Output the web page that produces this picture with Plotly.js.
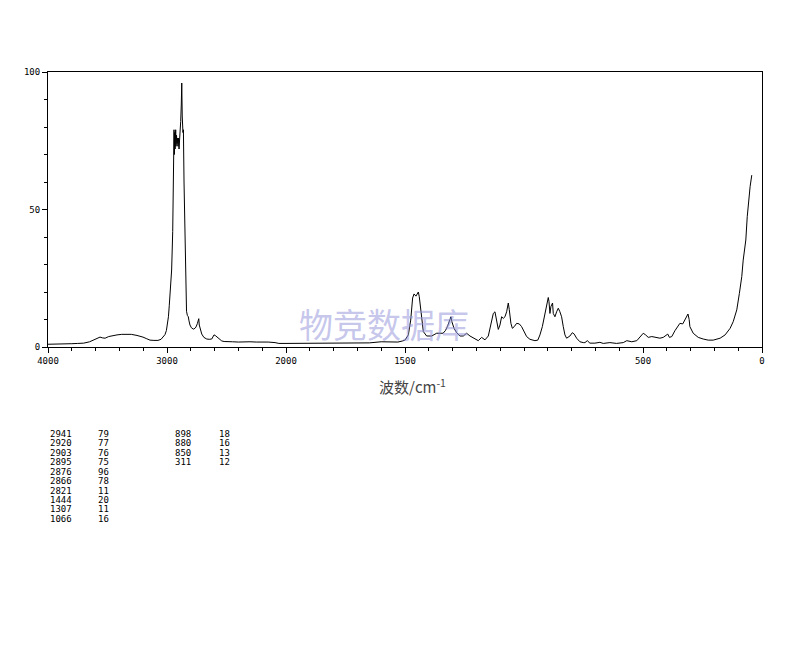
<!DOCTYPE html>
<html>
<head>
<meta charset="utf-8">
<script src="https://cdn.plot.ly/plotly-3.0.1.min.js"></script>
<style>html,body{margin:0;padding:0;background:#fff;}#chart{width:794px;height:652px;}</style>
</head>
<body>
<div id="chart"></div>
<script>
// Raman spectrum (wavenumber, cm-1 ; relative intensity)
const wavenumber = [4000,3950,3900,3850,3800,3750,3700,3650,3610,3580,3563,3540,3520,3490,3454,3420,3380,3336,3300,3252,3220,3202,3170,3143,3110,3076,3050,3034,3017,3005,2997,2988,2981,2970,2961,2952,2947,2943,2941,2938,2935,2932,2927,2924,2920,2916,2912,2908,2903,2899,2895,2890,2885,2880,2876,2872,2868,2866,2862,2857,2851,2846,2843,2836,2829,2821,2815,2807,2795,2779,2765,2756,2745,2737,2733,2729,2720,2708,2690,2666,2645,2624,2610,2605,2595,2577,2560,2540,2520,2498,2450,2400,2350,2303,2250,2200,2150,2092,2060,2000,1950,1900,1850,1800,1750,1700,1650,1600,1560,1530,1510,1500,1486,1476,1468,1462,1454,1449,1444,1440,1434,1429,1423,1409,1388,1367,1340,1330,1322,1311,1307,1303,1294,1283,1269,1255,1241,1227,1206,1192,1178,1164,1150,1139,1129,1122,1115,1108,1101,1094,1087,1080,1073,1066,1062,1055,1049,1041,1031,1020,1010,999,989,975,954,942,933,923,912,903,898,895,891,887,880,877,870,863,856,850,842,835,828,821,807,797,789,779,765,751,744,734,723,702,681,667,639,611,583,568,547,526,513,499,489,478,463,450,429,415,403,396,389,379,366,352,345,333,324,316,311,306,303,289,268,247,226,205,176,155,134,121,106,95,85,79,68,62,56,50,43];
const intensity = [1.0,1.0,1.1,1.0,1.2,1.3,1.4,1.9,2.6,3.2,3.6,3.3,3.2,3.8,4.2,4.4,4.6,4.7,4.6,4.2,3.9,3.6,3.0,2.5,2.4,2.4,2.8,3.5,4.5,6,8,11,15,21,28,42,60,71,79,70,78,72,79,73,77,74,76,73,76,72,75,74,82,88,96,84,80,78,79,60,45,30,21,13,11.5,11,9.5,8,7,6.5,6.8,7.3,8.5,9.8,10.3,8,6,4.7,3.5,2.9,2.8,2.9,4.0,4.4,4.2,3.6,2.8,2.2,2.0,1.9,1.9,1.8,1.9,1.9,1.8,1.9,1.8,1.6,1.3,1.3,1.3,1.4,1.3,1.3,1.4,1.3,1.5,1.9,1.9,1.8,2.2,2.5,4.4,9.8,17.8,19.3,18.5,19.5,20,18.3,13.5,8,5.6,4,4,5,5,6,7.4,10,11,9.2,6.8,5.2,4,4,5,4,2.8,2.3,3.5,2.6,4,8.6,12.2,12.8,9.8,6.4,8,11,10.4,11,12.8,16,13.7,8.6,6.8,7.4,8.6,8.4,7.4,5.2,3.8,2.8,2.3,2.5,4.4,7.4,11.6,15.3,18,16.5,12.2,14.7,16,12.2,11,12.8,14.1,13,11,7.4,4.4,3.2,4,5.2,4.7,3.2,1.9,1.6,1.6,2.3,1.4,1.4,1.7,1.3,1.6,1.3,1.6,2.3,1.9,2.3,3.5,5,4.4,3.5,3.8,3.5,3.2,3.5,4.4,4.7,3.5,3.8,5.9,8,8.6,8.4,10.1,11.5,12,10,7.4,5,3.5,2.9,2.5,2.5,3.2,4.4,6.8,9.2,13.5,19.5,25.6,31.6,38.9,47.4,53.5,58.3,62.5];

// Axis tick labels
const xTickLabels = [4000, 3000, 2000, 1500, 500, 0];
const yTickLabels = [0, 50, 100];

// Peak table
const peakWavenumber = [2941, 2920, 2903, 2895, 2876, 2866, 2821, 1444, 1307, 1066, 898, 880, 850, 311];
const peakIntensity  = [79, 77, 76, 75, 96, 78, 11, 20, 11, 16, 18, 16, 13, 12];

const xTitle = '波数/cm<sup>-1</sup>';
const watermark = '物竞数据库';

// The x axis is compressed by a factor 2 above 2000 cm-1
function toAxis(w) { return w <= 2000 ? w : 2000 + (w - 2000) / 2; }

const W = 794, H = 652, L = 48, R = 32, T = 72, B = 305;
const pw = W - L - R, ph = H - T - B;
function px2paperX(px) { return (px - L) / pw; }
function py2paperY(py) { return (H - B - py) / ph; }

const trace = {
  x: wavenumber.map(toAxis),
  y: intensity,
  type: 'scatter',
  mode: 'lines',
  line: {color: '#000', width: 1},
  hoverinfo: 'skip'
};

const tickFont = {family: 'DejaVu Sans Mono', size: 9, color: '#000'};
const annotations = [];

annotations.push({
  xref: 'paper', yref: 'paper', x: px2paperX(384), y: py2paperY(323),
  text: watermark, showarrow: false, xanchor: 'center', yanchor: 'middle',
  font: {family: 'Noto Sans CJK SC', size: 34, color: 'rgba(150,150,220,0.55)'}
});

annotations.push({
  xref: 'paper', yref: 'paper', x: px2paperX(412), y: py2paperY(386),
  text: xTitle, showarrow: false, xanchor: 'center', yanchor: 'middle',
  font: {family: 'Noto Sans CJK SC', size: 15, color: '#444'}
});

const rowTop = 434, rowStep = 9.43, rowsPerCol = 10;
const cols = [[47.5, 95.5], [172.5, 216.5]];
peakWavenumber.forEach(function (w, i) {
  const c = Math.floor(i / rowsPerCol), r = i % rowsPerCol;
  const y = py2paperY(rowTop + r * rowStep);
  annotations.push({xref: 'paper', yref: 'paper', x: px2paperX(cols[c][0]), y: y,
    text: String(w), showarrow: false, xanchor: 'left', yanchor: 'middle', font: tickFont});
  annotations.push({xref: 'paper', yref: 'paper', x: px2paperX(cols[c][1]), y: y,
    text: String(peakIntensity[i]), showarrow: false, xanchor: 'left', yanchor: 'middle', font: tickFont});
});

const layout = {
  width: W, height: H,
  margin: {l: L, r: R, t: T, b: B, pad: 0},
  paper_bgcolor: '#fff', plot_bgcolor: '#fff',
  showlegend: false,
  xaxis: {
    range: [toAxis(4000), 0],
    tickmode: 'array',
    tickvals: xTickLabels.map(toAxis),
    ticktext: xTickLabels.map(String),
    ticks: 'outside', ticklen: 5, tickwidth: 1, tickcolor: '#000',
    minor: {tickmode: 'linear', tick0: 0, dtick: 100, ticks: 'outside', ticklen: 3, tickwidth: 1, tickcolor: '#000', showgrid: false},
    showline: true, linecolor: '#000', linewidth: 1, mirror: true,
    showgrid: false, zeroline: false,
    tickfont: tickFont
  },
  yaxis: {
    range: [0, 100],
    tickmode: 'array',
    tickvals: yTickLabels,
    ticktext: yTickLabels.map(String),
    ticks: 'outside', ticklen: 5, tickwidth: 1, tickcolor: '#000',
    minor: {tickmode: 'linear', tick0: 0, dtick: 10, ticks: 'outside', ticklen: 3, tickwidth: 1, tickcolor: '#000', showgrid: false},
    showline: true, linecolor: '#000', linewidth: 1, mirror: true,
    showgrid: false, zeroline: false,
    tickfont: tickFont
  },
  annotations: annotations
};

Plotly.newPlot('chart', [trace], layout, {staticPlot: true, displayModeBar: false});
</script>
</body>
</html>
